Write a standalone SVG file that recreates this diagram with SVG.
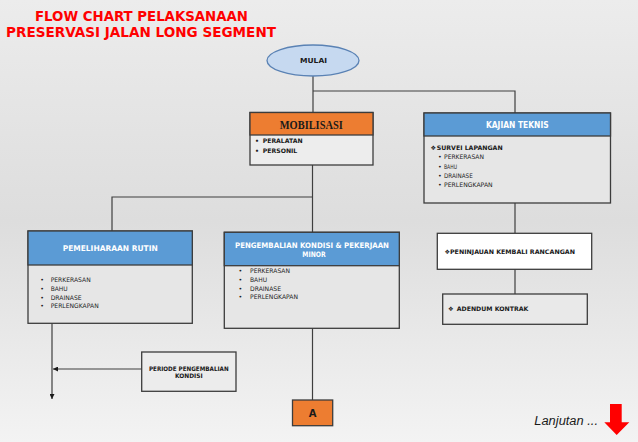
<svg xmlns="http://www.w3.org/2000/svg" width="638" height="442" viewBox="0 0 638 442">
<style>
.bx{stroke:#3c3c3c;stroke-width:1.3}
.body{fill:#e6e6e6}
.hb{fill:#5b9bd5}
.ho{fill:#ed7d31}
.ln{fill:none;stroke:#3f3f3f;stroke-width:1.2}
.t{font-family:"DejaVu Sans",Verdana,sans-serif;fill:#1a1a1a}
.b{font-weight:bold}
.w{fill:#ffffff}
.it{font-family:"DejaVu Sans",sans-serif;font-size:6.3px;fill:#222222}
.title{font-family:"DejaVu Sans",Verdana,sans-serif;font-weight:bold;font-size:14px;fill:#ff0000}
</style>
<defs>
<linearGradient id="bg" x1="0" y1="0" x2="0" y2="1">
<stop offset="0" stop-color="#ececec"/>
<stop offset="0.5" stop-color="#dddddd"/>
<stop offset="1" stop-color="#f3f3f3"/>
</linearGradient>
<marker id="ah" viewBox="0 0 10 10" refX="10" refY="5" markerWidth="5" markerHeight="5" orient="auto" markerUnits="userSpaceOnUse">
<path d="M0,0 L10,5 L0,10 z" fill="#1a1a1a"/>
</marker>
</defs>
<rect x="0" y="0" width="638" height="442" fill="url(#bg)"/>

<g id="title">
<text class="title" x="35" y="20.7" textLength="213" lengthAdjust="spacingAndGlyphs">FLOW CHART PELAKSANAAN</text>
<text class="title" x="6" y="37.3" textLength="270" lengthAdjust="spacingAndGlyphs">PRESERVASI JALAN LONG SEGMENT</text>
</g>

<g id="connectors">
<path class="ln" d="M313,76 V112"/>
<path class="ln" d="M313,91 H515 V113"/>
<path class="ln" d="M312.5,165 V232"/>
<path class="ln" d="M312.5,197 H112 V231"/>
<path class="ln" d="M515,203 V233"/>
<path class="ln" d="M515,269 V294"/>
<path class="ln" d="M312.5,328 V400"/>
<path class="ln" d="M52,323 V399" marker-end="url(#ah)"/>
<path class="ln" d="M142,369 H53" marker-end="url(#ah)"/>
</g>

<g id="mulai">
<ellipse cx="313" cy="60.5" rx="46" ry="15.5" fill="#c6d9f0" stroke="#5a82b4" stroke-width="1.3"/>
<text class="t b" x="313.5" y="63.2" font-size="7" text-anchor="middle" textLength="27" lengthAdjust="spacingAndGlyphs">MULAI</text>
</g>

<g id="mobilisasi">
<rect class="bx" x="250" y="112.5" width="123" height="52.5" fill="#ededed"/>
<rect class="bx ho" x="250" y="112.5" width="123" height="22.5"/>
<text x="311.3" y="128.5" font-family="'Liberation Serif','Times New Roman',serif" font-weight="bold" font-size="12.5" fill="#1a1a1a" text-anchor="middle" textLength="63" lengthAdjust="spacingAndGlyphs">MOBILISASI</text>
<text class="t b" font-size="6.2" y="143.2"><tspan x="255">•</tspan><tspan x="262.7" textLength="40" lengthAdjust="spacingAndGlyphs">PERALATAN</tspan></text>
<text class="t b" font-size="6.2" y="153.2"><tspan x="255">•</tspan><tspan x="262.7" textLength="34.6" lengthAdjust="spacingAndGlyphs">PERSONIL</tspan></text>
</g>

<g id="kajian">
<rect class="bx body" x="424" y="113" width="186.5" height="90"/>
<rect class="bx hb" x="424" y="113" width="186.5" height="23"/>
<text class="t b w" x="517.3" y="128.3" font-size="8" text-anchor="middle" textLength="62.7" lengthAdjust="spacingAndGlyphs">KAJIAN TEKNIS</text>
<text class="t b" font-size="6.2" y="149.9"><tspan x="430.5">❖</tspan><tspan x="436.7" textLength="66" lengthAdjust="spacingAndGlyphs">SURVEI LAPANGAN</tspan></text>
<text class="it" y="159.4"><tspan x="438">•</tspan><tspan x="444" textLength="40" lengthAdjust="spacingAndGlyphs">PERKERASAN</tspan></text>
<text class="it" y="168.7"><tspan x="438">•</tspan><tspan x="444" textLength="13" lengthAdjust="spacingAndGlyphs">BAHU</tspan></text>
<text class="it" y="178"><tspan x="438">•</tspan><tspan x="444" textLength="28.7" lengthAdjust="spacingAndGlyphs">DRAINASE</tspan></text>
<text class="it" y="187.4"><tspan x="438">•</tspan><tspan x="444" textLength="48.7" lengthAdjust="spacingAndGlyphs">PERLENGKAPAN</tspan></text>
</g>

<g id="pemeliharaan">
<rect class="bx body" x="28" y="231" width="164.3" height="92.3"/>
<rect class="bx hb" x="28" y="231" width="164.3" height="34"/>
<text class="t b w" x="110.2" y="251.2" font-size="7.8" text-anchor="middle" textLength="95" lengthAdjust="spacingAndGlyphs">PEMELIHARAAN  RUTIN</text>
<text class="it" y="282.2"><tspan x="40.2">•</tspan><tspan x="50.7" textLength="40" lengthAdjust="spacingAndGlyphs">PERKERASAN</tspan></text>
<text class="it" y="290.9"><tspan x="40.2">•</tspan><tspan x="50.7" textLength="17" lengthAdjust="spacingAndGlyphs">BAHU</tspan></text>
<text class="it" y="299.5"><tspan x="40.2">•</tspan><tspan x="50.7" textLength="31" lengthAdjust="spacingAndGlyphs">DRAINASE</tspan></text>
<text class="it" y="308.2"><tspan x="40.2">•</tspan><tspan x="50.7" textLength="48" lengthAdjust="spacingAndGlyphs">PERLENGKAPAN</tspan></text>
</g>

<g id="pengembalian">
<rect class="bx body" x="224.3" y="232.3" width="175" height="96"/>
<rect class="bx hb" x="224.3" y="232.3" width="175" height="33.4"/>
<text class="t b w" x="312" y="248.4" font-size="7.5" text-anchor="middle" textLength="154" lengthAdjust="spacingAndGlyphs">PENGEMBALIAN KONDISI &amp; PEKERJAAN</text>
<text class="t b w" x="314" y="257" font-size="7.5" text-anchor="middle" textLength="23.4" lengthAdjust="spacingAndGlyphs">MINOR</text>
<text class="it" y="273.2"><tspan x="238.5">•</tspan><tspan x="250" textLength="40" lengthAdjust="spacingAndGlyphs">PERKERASAN</tspan></text>
<text class="it" y="281.9"><tspan x="238.5">•</tspan><tspan x="250" textLength="17" lengthAdjust="spacingAndGlyphs">BAHU</tspan></text>
<text class="it" y="290.5"><tspan x="238.5">•</tspan><tspan x="250" textLength="31" lengthAdjust="spacingAndGlyphs">DRAINASE</tspan></text>
<text class="it" y="299.2"><tspan x="238.5">•</tspan><tspan x="250" textLength="48" lengthAdjust="spacingAndGlyphs">PERLENGKAPAN</tspan></text>
</g>

<g id="peninjauan">
<rect class="bx" x="437.3" y="233.3" width="154.4" height="36" fill="#ffffff"/>
<text class="t b" font-size="6.2" y="253.9"><tspan x="444.5">❖</tspan><tspan x="450" textLength="125" lengthAdjust="spacingAndGlyphs">PENINJAUAN KEMBALI RANCANGAN</tspan></text>
</g>

<g id="adendum">
<rect class="bx" x="442.7" y="294" width="144.6" height="30.3" fill="#e9e9e9"/>
<text class="t b" font-size="6.2" y="310.5"><tspan x="448">❖</tspan><tspan x="456.7" textLength="71.7" lengthAdjust="spacingAndGlyphs">ADENDUM KONTRAK</tspan></text>
</g>

<g id="periode">
<rect class="bx" x="141.7" y="352" width="94.3" height="39.3" fill="#ececec"/>
<text class="t b" x="188.8" y="370.9" font-size="6.2" text-anchor="middle" textLength="79.7" lengthAdjust="spacingAndGlyphs">PERIODE PENGEMBALIAN</text>
<text class="t b" x="188.8" y="377.9" font-size="6.2" text-anchor="middle" textLength="27.7" lengthAdjust="spacingAndGlyphs">KONDISI</text>
</g>

<g id="a">
<rect class="bx ho" x="292.5" y="400" width="40.2" height="25.7"/>
<text class="t b" x="312.5" y="417" font-size="10" text-anchor="middle">A</text>
</g>

<g id="lanjutan">
<text x="534.3" y="425" font-family="'Liberation Sans',Arial,sans-serif" font-style="italic" font-size="12" fill="#1a1a1a" textLength="63.7" lengthAdjust="spacingAndGlyphs">Lanjutan ...</text>
<path d="M610,404 H621.7 V422.3 H629.3 L616.7,435 L604.3,422.3 H610 Z" fill="#ff0000"/>
</g>
</svg>
